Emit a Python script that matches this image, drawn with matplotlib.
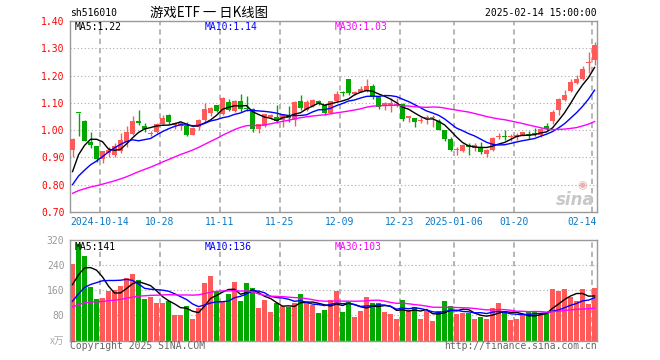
import numpy as np
import pandas as pd
import matplotlib
matplotlib.use("Agg")
import matplotlib.pyplot as plt
from matplotlib.transforms import blended_transform_factory

# ---------------- data ----------------
date_labels = ['2024-10-14', '10-28', '11-11', '11-25', '12-09', '12-23',
               '2025-01-06', '01-20', '02-14']
date_index = [5, 15, 25, 35, 45, 55, 64, 74, 87]

opens = [0.929, 1.063, 1.035, 0.957, 0.941, 0.895, 0.915, 0.908, 0.923, 0.955,
         0.985, 1.033, 1.017, 0.987, 0.992, 1.024, 1.056, 1.019, 1.017, 1.017,
         0.984, 1.010, 1.037, 1.064, 1.092, 1.059, 1.103, 1.070, 1.106, 1.080,
         1.077, 1.003, 1.017, 1.047, 1.048, 1.039, 1.050, 1.037, 1.106, 1.073,
         1.090, 1.106, 1.092, 1.062, 1.106, 1.137, 1.187, 1.132, 1.141, 1.142,
         1.163, 1.120, 1.088, 1.089, 1.090, 1.096, 1.046, 1.044, 1.034, 1.044,
         1.044, 1.033, 0.999, 0.969, 0.928, 0.923, 0.942, 0.933, 0.938, 0.911,
         0.929, 0.975, 0.977, 0.974, 0.975, 0.980, 0.987, 0.988, 0.982, 1.016,
         1.033, 1.072, 1.111, 1.143, 1.174, 1.188, 1.246, 1.256]
highs = [0.970, 1.064, 1.037, 0.994, 0.943, 0.925, 0.940, 0.953, 0.988, 1.016,
         1.050, 1.072, 1.026, 0.998, 1.027, 1.055, 1.060, 1.030, 1.035, 1.031,
         1.010, 1.040, 1.100, 1.084, 1.093, 1.120, 1.114, 1.110, 1.132, 1.125,
         1.080, 1.024, 1.060, 1.060, 1.092, 1.060, 1.088, 1.106, 1.128, 1.110,
         1.115, 1.112, 1.095, 1.108, 1.144, 1.144, 1.188, 1.145, 1.161, 1.187,
         1.168, 1.120, 1.103, 1.118, 1.118, 1.100, 1.048, 1.046, 1.047, 1.057,
         1.057, 1.040, 1.000, 0.975, 0.940, 0.950, 0.954, 0.953, 0.957, 0.932,
         0.974, 0.988, 1.000, 0.985, 0.990, 0.995, 0.996, 1.009, 1.008, 1.027,
         1.072, 1.119, 1.148, 1.186, 1.202, 1.236, 1.285, 1.324]
lows = [0.901, 0.980, 0.960, 0.933, 0.882, 0.878, 0.900, 0.900, 0.915, 0.940,
        0.983, 1.020, 0.995, 0.978, 0.990, 1.020, 1.024, 1.004, 1.000, 0.980,
        0.982, 1.000, 1.030, 1.050, 1.066, 1.055, 1.069, 1.065, 1.066, 1.069,
        0.992, 0.988, 1.012, 1.040, 1.028, 1.010, 1.030, 1.017, 1.075, 1.070,
        1.085, 1.092, 1.057, 1.060, 1.103, 1.125, 1.130, 1.130, 1.138, 1.140,
        1.115, 1.078, 1.075, 1.065, 1.085, 1.035, 1.030, 1.012, 1.026, 1.023,
        1.012, 1.000, 0.960, 0.925, 0.910, 0.920, 0.908, 0.925, 0.911, 0.901,
        0.925, 0.966, 0.963, 0.962, 0.965, 0.978, 0.969, 0.977, 0.974, 1.000,
        1.023, 1.057, 1.108, 1.140, 1.168, 1.185, 1.210, 1.240]
closes = [0.968, 1.063, 0.962, 0.947, 0.893, 0.923, 0.927, 0.941, 0.963, 0.994,
          1.033, 1.027, 1.004, 0.989, 1.024, 1.046, 1.029, 1.027, 1.025, 0.984,
          1.007, 1.037, 1.077, 1.081, 1.070, 1.117, 1.073, 1.106, 1.077, 1.077,
          1.006, 1.021, 1.059, 1.055, 1.033, 1.059, 1.044, 1.103, 1.080, 1.103,
          1.110, 1.100, 1.064, 1.106, 1.131, 1.135, 1.135, 1.141, 1.152, 1.163,
          1.122, 1.086, 1.098, 1.100, 1.097, 1.041, 1.048, 1.030, 1.036, 1.046,
          1.047, 1.002, 0.966, 0.929, 0.930, 0.947, 0.940, 0.945, 0.921, 0.929,
          0.972, 0.977, 0.975, 0.976, 0.984, 0.993, 0.979, 0.986, 1.006, 1.004,
          1.067, 1.113, 1.128, 1.177, 1.186, 1.225, 1.248, 1.312]
volumes = [243, 306, 269, 171, 131, 135, 159, 160, 173, 200,
           211, 192, 131, 140, 118, 118, 127, 80, 80, 109,
           70, 105, 182, 205, 155, 123, 147, 186, 125, 182,
           167, 102, 128, 90, 118, 109, 107, 120, 147, 125,
           114, 86, 96, 128, 157, 90, 123, 74, 93, 138,
           118, 118, 90, 83, 70, 128, 98, 106, 67, 95,
           61, 93, 125, 109, 83, 88, 88, 70, 74, 67,
           105, 120, 93, 64, 67, 80, 90, 90, 84, 86,
           163, 157, 163, 140, 125, 163, 115, 166]

# closes / volumes of the sessions before the first visible candle (needed for MA lines)
hist_close = [0.760, 0.758, 0.755, 0.752, 0.750, 0.748, 0.752, 0.755, 0.758, 0.754,
              0.750, 0.748, 0.745, 0.750, 0.753, 0.756, 0.752, 0.750, 0.748, 0.754,
              0.745, 0.748, 0.750, 0.755, 0.762, 0.755, 0.790, 0.835, 0.892]
hist_volume = [95, 100, 92, 105, 98, 96, 102, 99, 94, 101,
               97, 100, 96, 103, 98, 95, 99, 97, 100, 93,
               70, 68, 75, 72, 75, 150, 160, 165, 172]

ma_periods = [5, 10, 30]
ma_colors = ['#000000', '#0000ff', '#ff00ff']

# ---------------- style ----------------
plt.rcParams['font.family'] = ['DejaVu Sans Mono']
RED = '#ff5a5a'
GREEN = '#00a800'
GRID = '#aaaaaa'
FS = 7

W, H = 660, 360
fig = plt.figure(figsize=(W / 100, H / 100), dpi=100)


def px_axes(left, top, right, bottom):
    return fig.add_axes([left / W, 1 - bottom / H, (right - left) / W, (bottom - top) / H])


ax = px_axes(70, 21, 597, 212)
axv = px_axes(70, 240, 597, 340.5)

n = len(closes)
xs = np.arange(n) + 0.42
o = np.array(opens); c = np.array(closes); h = np.array(highs); l = np.array(lows)
up = c > o
cols = np.where(up, RED, GREEN)


def moving_avg(hist, vals, k):
    full = pd.Series(list(hist) + list(vals), dtype=float)
    return full.rolling(k).mean().values[len(hist):]


def trunc(v, nd):
    f = 10 ** nd
    return np.floor(v * f + 1e-9) / f


for a in (ax, axv):
    a.set_xlim(0, n - 0.17)
    for s in a.spines.values():
        s.set_color('#999999')
        s.set_linewidth(1.0)
    a.set_xticks([])
    for i in date_index:
        a.axvline(i, color=GRID, lw=1.2, ls=(0, (3.2, 2.4)), zorder=0)
    a.tick_params(axis='y', length=0, pad=4, labelsize=FS)

# ---- price panel ----
ax.set_ylim(0.70, 1.40)
yt = [0.70, 0.80, 0.90, 1.00, 1.10, 1.20, 1.30, 1.40]
ax.set_yticks(yt)
ax.set_yticklabels(['%.2f' % v for v in yt])
ax.tick_params(axis='y', labelcolor='#ff0000')
for v in yt[1:-1]:
    ax.axhline(v, color=GRID, lw=0.8, ls=(0, (1, 2.2)), zorder=0)

ax.vlines(xs, l, h, colors=cols, lw=1.0, zorder=2)
body = np.maximum(np.abs(c - o), 0.004)
ax.bar(xs, body, bottom=np.minimum(o, c), width=5 / 6, color=cols, lw=0, zorder=3)

ma_last = []
for k, col in zip(ma_periods, ma_colors):
    m = moving_avg(hist_close, closes, k)
    ax.plot(xs, m, color=col, lw=1.0, zorder=4)
    ma_last.append(m[-1])

ytxt = (212 - 26.5) / 191
for xp, k, col, v in zip([75, 205, 335], ma_periods, ma_colors, ma_last):
    ax.text((xp - 70) / 527, ytxt, 'MA%d:%.2f' % (k, trunc(v, 2)), color=col,
            fontsize=FS, transform=ax.transAxes, ha='left', va='center')

tr = blended_transform_factory(ax.transData, ax.transAxes)
for j, (i, lab) in enumerate(zip(date_index, date_labels)):
    ha = 'right' if j == len(date_index) - 1 else 'center'
    xpos = i + (0.83 if ha == 'right' else 0)
    ax.text(xpos, -0.051, lab, transform=tr, ha=ha, va='center',
            color='#0a78c8', fontsize=FS)

# sina watermark
ax.text(0.995, 0.065, 'sina', transform=ax.transAxes, ha='right', va='center',
        fontsize=12, color='#c8c8c8', style='italic', weight='bold',
        family=['DejaVu Sans'], zorder=1)
ax.text(0.972, 0.14, '◉', transform=ax.transAxes, ha='center', va='center',
        fontsize=8, color='#e8b0b0', family=['DejaVu Sans'], zorder=1)

# ---- volume panel ----
axv.set_ylim(0, 320)
vt = [80, 160, 240, 320]
axv.set_yticks(vt)
axv.set_yticklabels([str(v) for v in vt])
axv.tick_params(axis='y', labelcolor='#9a9a9a')
for v in vt[:-1]:
    axv.axhline(v, color=GRID, lw=0.8, ls=(0, (1, 2.2)), zorder=0)
axv.bar(xs, volumes, width=5 / 6, color=cols, lw=0, zorder=2)

vma_last = []
for k, col in zip(ma_periods, ma_colors):
    m = moving_avg(hist_volume, volumes, k)
    axv.plot(xs, m, color=col, lw=1.0, zorder=4)
    vma_last.append(m[-1])

ytxtv = (340.5 - 246.5) / 100.5
for xp, k, col, v in zip([75, 205, 335], ma_periods, ma_colors, vma_last):
    axv.text((xp - 70) / 527, ytxtv, 'MA%d:%d' % (k, int(np.floor(v + 1e-9))), color=col,
             fontsize=FS, transform=axv.transAxes, ha='left', va='center', zorder=5)

# ---- header / footer ----
fig.text(70 / W, 1 - 13 / H, 'sh516010', fontsize=FS, ha='left', va='center', color='#000000')
fig.text(150 / W, 1 - 12.5 / H, '游戏ETF 一 日K线图', fontsize=9.6,
         family=['Noto Sans CJK SC', 'DejaVu Sans'], ha='left', va='center', color='#000000')
fig.text(597 / W, 1 - 13 / H, '2025-02-14 15:00:00', fontsize=FS, ha='right', va='center',
         color='#000000')
fig.text(64 / W, 1 - 341 / H, 'x万', fontsize=7, family=['Noto Sans CJK SC', 'DejaVu Sans'],
         ha='right', va='center', color='#aaaaaa')
fig.text(70 / W, 1 - 346 / H, 'Copyright 2025 SINA.COM', fontsize=FS, ha='left', va='center',
         color='#666666')
fig.text(597 / W, 1 - 346 / H, 'http://finance.sina.com.cn', fontsize=FS, ha='right',
         va='center', color='#666666')

fig.savefig('out.png', dpi=100)
